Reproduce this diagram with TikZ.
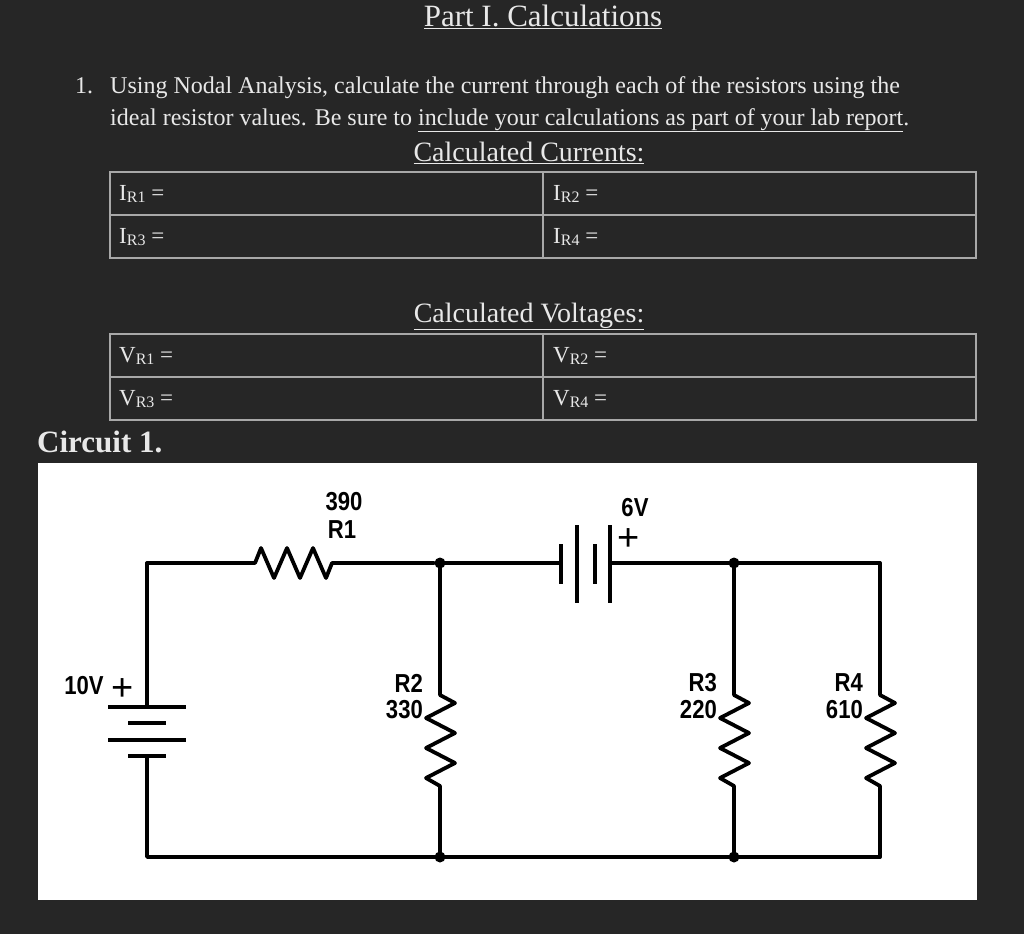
\documentclass[tikz,border=0pt]{standalone}
\usepackage{fontspec}
\setmainfont{Liberation Serif}
\setsansfont{Liberation Sans}
\definecolor{bg}{HTML}{262626}
\definecolor{fg}{HTML}{E8E8E8}
\definecolor{grid}{HTML}{A8A8A8}
\begin{document}
\begin{tikzpicture}[x=1pt,y=-1pt,
  txt/.style={text=fg,inner sep=0pt,font=\fontsize{24}{26}\selectfont},
  cell/.style={txt,anchor=west,font=\fontsize{23}{24}\selectfont},
  wire/.style={line width=3.8pt,line cap=round,line join=round},
  lab/.style={inner sep=0pt,font=\sffamily\bfseries\fontsize{26}{26}\selectfont,xscale=0.85},
  plus/.style={inner sep=0pt,font=\sffamily\fontsize{38}{38}\selectfont},
  dot/.style={circle,fill=black,inner sep=0pt,minimum size=11pt}]
\fill[bg] (0,0) rectangle (1024,934);
\useasboundingbox (0,0) rectangle (1024,934);
\node[txt,font=\fontsize{31}{33}\selectfont] (title) at (543,17) {\underline{Part I. Calculations}};
\node[txt,anchor=base west] (n1) at (75,93) {1.};
\node[txt,anchor=base west] (l1) at (110,93) {Using Nodal Analysis, calculate the current through each of the resistors using the};
\node[txt,anchor=base west] (l2) at (110,125) {ideal resistor values. Be sure to \underline{include your calculations as part of your lab report}.};
\node[txt,anchor=base,font=\fontsize{28}{30}\selectfont] (cc) at (529,161) {\underline{Calculated Currents:}};
\node[txt,anchor=base,font=\fontsize{28}{30}\selectfont] (cv) at (529,322) {\underline{Calculated Voltages:}};
\newcommand{\qq}[2]{#1\raisebox{-2pt}{\fontsize{16}{16}\selectfont #2} =}
\foreach \t/\a/\b/\c/\d/\e in {172/I/R1/R2/R3/R4, 334/V/R1/R2/R3/R4}{
  \draw[grid,line width=1.3pt] (110,\t) rectangle (976,\t+86);
  \draw[grid,line width=1.3pt] (110,\t+43) -- (976,\t+43);
  \draw[grid,line width=1.3pt] (543,\t) -- (543,\t+86);
  \node[cell] at (119,\t+22) {\qq{\a}{\b}};
  \node[cell] at (553,\t+22) {\qq{\a}{\c}};
  \node[cell] at (119,\t+65) {\qq{\a}{\d}};
  \node[cell] at (553,\t+65) {\qq{\a}{\e}};
}
\node[txt,anchor=base west,font=\bfseries\fontsize{31}{33}\selectfont] (circ) at (37,452) {Circuit 1.};
\fill[white] (38,463) rectangle (977,900);
\coordinate (tl) at (147,563);
\coordinate (bl) at (147,857);
\node[dot] (j1) at (440,563) {};
\node[dot] (j2) at (734,563) {};
\node[dot] (j3) at (440,857) {};
\node[dot] (j4) at (734,857) {};
\coordinate (tr) at (880,563);
\coordinate (br) at (880,857);
% left battery
\draw[wire] (tl) -- (147,707);
\draw[wire,line cap=butt] (108,707) -- (186,707) (128,723) -- (166,723) (108,740) -- (186,740) (128,756) -- (166,756);
\draw[wire] (147,756) -- (bl) -- (j3) -- (j4) -- (br);
\draw[wire] (j2) -- (tr);
\node[lab] at (84,686) {10V};
\node[plus] at (123,690) {+};
% R1
\draw[wire] (tl) -- (255,563) -- (261,548) -- (274,578) -- (287,548) -- (300,578) -- (313,548) -- (326,578) -- (332,563) -- (j1);
\node[lab] at (344,502) {390};
\node[lab] at (342,530) {R1};
% 6V battery
\draw[wire] (j1) -- (561,563);
\draw[wire] (610,563) -- (j2);
\draw[wire,line cap=butt] (561,544) -- (561,584) (577,525) -- (577,603) (595,544) -- (595,584) (610,525) -- (610,603);
\node[lab] at (635,508) {6V};
\node[plus] at (629,540) {+};
\foreach \x/\n/\v in {440/R2/330, 734/R3/220, 880/R4/610}{
  \draw[wire] (\x,563) -- (\x,695) -- (\x+15,703) -- (\x-14,718) -- (\x+15,733) -- (\x-14,748) -- (\x+15,763) -- (\x-14,778) -- (\x,786) -- (\x,857);
  \node[lab,anchor=east] at (\x-17,683) {\n};
  \node[lab,anchor=east] at (\x-17,710) {\v};
}
\end{tikzpicture}
\end{document}
